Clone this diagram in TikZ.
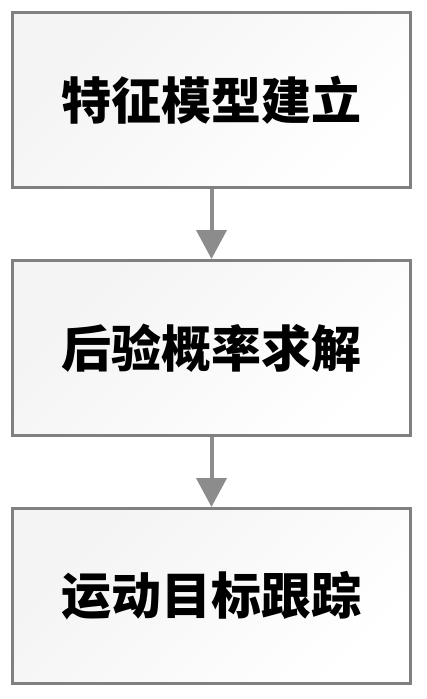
\documentclass[tikz,border=0pt]{standalone}
\usepackage{fontspec}
\newfontfamily\cjk{Noto Sans CJK SC}
\usetikzlibrary{positioning,arrows.meta}
\definecolor{boxgray}{HTML}{808080}
\definecolor{arrowgray}{HTML}{8C8C8C}
\tikzset{
  stepbox/.style={draw=boxgray,line width=3pt,minimum width=398pt,minimum height=175pt,
    left color=gray!9,right color=white,shading angle=45,
    font=\cjk\bfseries\fontsize{50pt}{52pt}\selectfont,inner sep=0pt},
  flowarrow/.style={arrowgray,line width=4pt,-{Triangle[length=29pt,width=30pt]}}
}
\begin{document}
\begin{tikzpicture}[node distance=70pt]
\useasboundingbox (0,0) rectangle (427pt,-699pt);
\node[stepbox] (model) at (211.5pt,-100pt) {特征模型建立};
\node[stepbox,below=of model] (post) {后验概率求解};
\node[stepbox,below=of post] (track) {运动目标跟踪};
\draw[flowarrow] (model) -- (post);
\draw[flowarrow] (post) -- (track);
\end{tikzpicture}
\end{document}
